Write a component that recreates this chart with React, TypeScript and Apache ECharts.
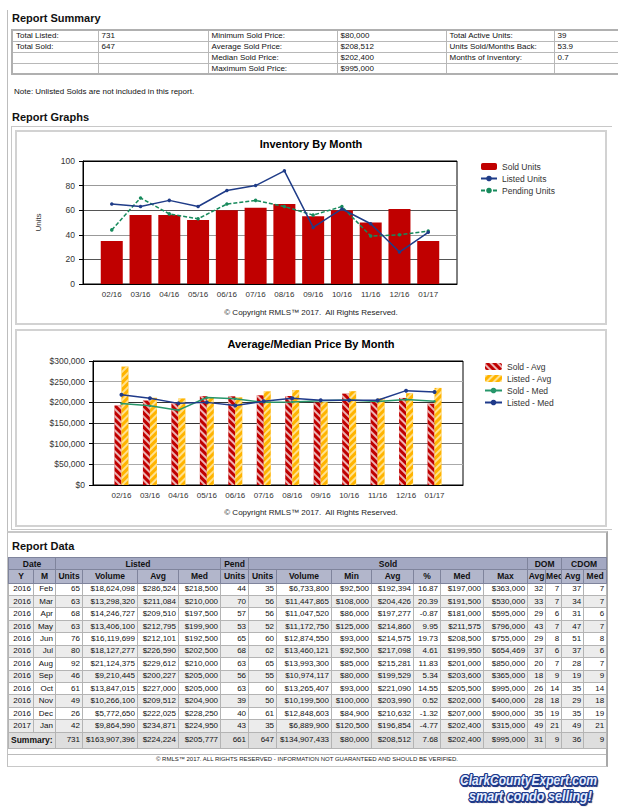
import React, { useEffect, useLayoutEffect, useRef } from "react";
import * as echarts from "echarts";

// ---------- chart data ----------
const months = ["02/16", "03/16", "04/16", "05/16", "06/16", "07/16", "08/16", "09/16", "10/16", "11/16", "12/16", "01/17"];
const soldUnits = [35, 56, 56, 52, 60, 62, 65, 55, 60, 50, 61, 35];
const listedUnits = [65, 63, 68, 63, 76, 80, 92, 46, 61, 49, 26, 42];
const pendingUnits = [44, 70, 57, 53, 65, 68, 63, 56, 63, 39, 40, 43];
const soldAvg = [192394, 204426, 197277, 214860, 214575, 217098, 215281, 199529, 221090, 203990, 210632, 196854];
const listedAvg = [286524, 211084, 209510, 212795, 212101, 226590, 229612, 200227, 227000, 209512, 222025, 234871];
const soldMed = [197000, 191500, 181000, 211575, 208500, 199950, 201000, 203600, 205500, 202000, 207000, 202400];
const listedMed = [218500, 210000, 197500, 199900, 192500, 202500, 210000, 205000, 205000, 204900, 228250, 224950];

// ---------- table data ----------
const years = ["2016", "2016", "2016", "2016", "2016", "2016", "2016", "2016", "2016", "2016", "2016", "2017"];
const monthNames = ["Feb", "Mar", "Apr", "May", "Jun", "Jul", "Aug", "Sep", "Oct", "Nov", "Dec", "Jan"];
const listedVolume = [18624098, 13298320, 14246727, 13406100, 16119699, 18127277, 21124375, 9210445, 13847015, 10266100, 5772650, 9864590];
const soldVolume = [6733800, 11447865, 11047520, 11172750, 12874550, 13460121, 13993300, 10974117, 13265407, 10199500, 12848603, 6889900];
const soldMin = [92500, 108000, 86000, 125000, 93000, 92500, 85000, 80000, 93000, 100000, 84900, 120500];
const soldPct = ["16.87", "20.39", "-0.87", "9.95", "19.73", "4.61", "11.83", "5.34", "14.55", "0.52", "-1.32", "-4.77"];
const soldMax = [363000, 530000, 595000, 796000, 755000, 654469, 850000, 365000, 995000, 400000, 900000, 315000];
const domAvg = [32, 33, 29, 43, 29, 37, 20, 18, 26, 28, 35, 49];
const domMed = [7, 7, 6, 7, 8, 6, 7, 9, 14, 18, 19, 21];
const cdomAvg = [37, 34, 31, 47, 51, 37, 28, 19, 35, 29, 35, 49];
const cdomMed = [7, 7, 6, 7, 8, 6, 7, 9, 14, 18, 19, 21];
const summaryRow = ["731", "$163,907,396", "$224,224", "$205,777", "661", "647", "$134,907,433", "$80,000", "$208,512", "7.68", "$202,400", "$995,000", "31", "9", "36", "9"];

const summaryLabels = [
  ["Total Listed:", "731", "Minimum Sold Price:", "$80,000", "Total Active Units:", "39"],
  ["Total Sold:", "647", "Average Sold Price:", "$208,512", "Units Sold/Months Back:", "53.9"],
  ["", "", "Median Sold Price:", "$202,400", "Months of Inventory:", "0.7"],
  ["", "", "Maximum Sold Price:", "$995,000", "", ""],
];

const FONT = "'Liberation Sans', Arial, sans-serif";
const money = (n: number) => "$" + n.toLocaleString("en-US");
const padCats = ["", ...months, ""];
const pad = (a: number[]) => ["-", ...a, "-"] as any[];

function useChart(build: () => any) {
  const ref = useRef<HTMLDivElement>(null);
  useEffect(() => {
    const chart = echarts.init(ref.current!, undefined, { renderer: "svg" });
    chart.setOption(build());
    return () => chart.dispose();
  }, []);
  return ref;
}

const commonX = {
  type: "category",
  data: padCats,
  boundaryGap: false,
  axisLine: { lineStyle: { color: "#000", width: 1 } },
  axisTick: { show: false },
  axisLabel: { fontSize: 8, color: "#333", margin: 6, interval: 0, fontFamily: FONT },
  splitLine: { show: false },
};

function InventoryChart() {
  const ref = useChart(() => ({
    animation: false,
    textStyle: { fontFamily: FONT },
    title: [
      { text: "Inventory By Month", left: "center", top: 3, textStyle: { fontSize: 11, fontWeight: "bold", color: "#000", fontFamily: FONT } },
      { text: "© Copyright RMLS™ 2017.  All Rights Reserved.", left: "center", top: 173, textStyle: { fontSize: 8, fontWeight: "normal", color: "#222", fontFamily: FONT } },
    ],
    legend: {
      orient: "vertical",
      left: 460,
      top: 27,
      itemWidth: 16,
      itemHeight: 7,
      itemGap: 3,
      textStyle: { fontSize: 8.5, color: "#333", fontFamily: FONT },
      data: ["Sold Units", "Listed Units", "Pending Units"],
    },
    grid: { left: 68, top: 31, width: 374, height: 123, show: true, borderColor: "#000", borderWidth: 1 },
    xAxis: commonX,
    yAxis: {
      type: "value",
      min: 0,
      max: 100,
      interval: 20,
      axisLine: { show: true, lineStyle: { color: "#000" } },
      axisTick: { show: true, length: 4, lineStyle: { color: "#000" } },
      axisLabel: { fontSize: 8.5, color: "#333", margin: 8, fontFamily: FONT },
      splitLine: { show: true, lineStyle: { color: ["#000", "#555", "#999", "#555", "#999", "#000"] } },
      name: "Units",
      nameLocation: "middle",
      nameGap: 41,
      nameTextStyle: { fontSize: 8, color: "#333", fontFamily: FONT },
    },
    series: [
      { name: "Sold Units", type: "bar", data: pad(soldUnits), barWidth: 22, itemStyle: { color: "#c00000" }, z: 1 },
      {
        name: "Listed Units", type: "line", data: pad(listedUnits), color: "#1f3c88",
        lineStyle: { color: "#1f3c88", width: 1.5 }, symbol: "circle", symbolSize: 3.5, itemStyle: { color: "#1f3c88" }, z: 3,
      },
      {
        name: "Pending Units", type: "line", data: pad(pendingUnits), color: "#178a5c",
        lineStyle: { color: "#178a5c", width: 1.5, type: [4, 2] }, symbol: "circle", symbolSize: 3.5, itemStyle: { color: "#178a5c" }, z: 2,
      },
    ],
  }));
  return <div ref={ref} style={{ position: "absolute", left: 15, top: 130, width: 592, height: 195 }} />;
}

function PriceChart() {
  const ref = useChart(() => ({
    animation: false,
    textStyle: { fontFamily: FONT },
    title: [
      { text: "Average/Median Price By Month", left: "center", top: 4, textStyle: { fontSize: 11, fontWeight: "bold", color: "#000", fontFamily: FONT } },
      { text: "© Copyright RMLS™ 2017.  All Rights Reserved.", left: "center", top: 174, textStyle: { fontSize: 8, fontWeight: "normal", color: "#222", fontFamily: FONT } },
    ],
    legend: {
      orient: "vertical",
      left: 464,
      top: 28,
      itemWidth: 17,
      itemHeight: 7,
      itemGap: 3,
      textStyle: { fontSize: 8.5, color: "#333", fontFamily: FONT },
      data: ["Sold - Avg", "Listed - Avg", "Sold - Med", "Listed - Med"],
    },
    grid: { left: 78, top: 32, width: 370, height: 124, show: true, borderColor: "#000", borderWidth: 1 },
    xAxis: commonX,
    yAxis: {
      type: "value",
      min: 0,
      max: 300000,
      interval: 50000,
      axisLine: { show: true, lineStyle: { color: "#000" } },
      axisTick: { show: true, length: 4, lineStyle: { color: "#000" } },
      axisLabel: { fontSize: 8.5, color: "#333", margin: 8, fontFamily: FONT, formatter: (v: number) => money(v) },
      splitLine: { show: true, lineStyle: { color: ["#000", "#aaa", "#777", "#333", "#333", "#aaa", "#000"] } },
    },
    series: [
      {
        name: "Sold - Avg", type: "bar", data: pad(soldAvg), barWidth: 7, barGap: "0%",
        itemStyle: {
          color: "#c00000",
          decal: { color: "rgba(255,255,255,0.7)", dashArrayX: [1, 0], dashArrayY: [1.5, 2.5], rotation: Math.PI / 4, symbolSize: 1 },
        },
        z: 1,
      },
      {
        name: "Listed - Avg", type: "bar", data: pad(listedAvg), barWidth: 7, barGap: "0%",
        itemStyle: {
          color: "#ffb400",
          decal: { color: "rgba(255,240,190,0.75)", dashArrayX: [1, 0], dashArrayY: [1.5, 2.5], rotation: -Math.PI / 4, symbolSize: 1 },
        },
        z: 1,
      },
      {
        name: "Sold - Med", type: "line", data: pad(soldMed), color: "#27966a",
        lineStyle: { color: "#27966a", width: 1.5 }, symbol: "circle", symbolSize: 2.5, itemStyle: { color: "#27966a" }, z: 2,
      },
      {
        name: "Listed - Med", type: "line", data: pad(listedMed), color: "#1f3a8a",
        lineStyle: { color: "#1f3a8a", width: 1.5 }, symbol: "circle", symbolSize: 4, itemStyle: { color: "#1f3a8a" }, z: 3,
      },
    ],
  }));
  return <div ref={ref} style={{ position: "absolute", left: 15, top: 329, width: 592, height: 198 }} />;
}

const abs = (l: number, t: number, extra: React.CSSProperties = {}): React.CSSProperties => ({ position: "absolute", left: l, top: t, ...extra });
const heading: React.CSSProperties = { fontSize: 11, fontWeight: "bold", color: "#111", lineHeight: "12px", whiteSpace: "nowrap" };

function SummaryTable() {
  const widths = [86, 110, 129, 109, 108, 90];
  const cell: React.CSSProperties = { border: "1px solid #b8b8b8", height: 9, padding: "0 3px", fontSize: 8, lineHeight: "9px", color: "#111", whiteSpace: "nowrap", overflow: "hidden" };
  return (
    <table style={{ ...abs(11, 29), borderCollapse: "collapse", tableLayout: "fixed", width: 632, border: "2px solid #b0b0b0" }}>
      <colgroup>{widths.map((w, i) => <col key={i} style={{ width: w }} />)}</colgroup>
      <tbody>
        {summaryLabels.map((r, i) => (
          <tr key={i} style={{ height: 11 }}>{r.map((c, j) => <td key={j} style={cell}>{c}</td>)}</tr>
        ))}
      </tbody>
    </table>
  );
}

function DataTable() {
  const widths = [25, 22, 27, 55, 41, 42, 28, 28, 55, 40, 42, 27, 43, 44, 18, 16, 22, 23];
  const hd: React.CSSProperties = { border: "1px solid #7f849c", fontSize: 8.5, fontWeight: "bold", color: "#111", textAlign: "center", padding: 0, lineHeight: "10px", whiteSpace: "nowrap", overflow: "hidden" };
  const td: React.CSSProperties = { border: "1px solid #b4b4b4", fontSize: 8, color: "#111", textAlign: "right", padding: "0 2px", lineHeight: "10px", whiteSpace: "nowrap", overflow: "hidden" };
  const rows = months.map((_, i) => [
    years[i], monthNames[i], String(listedUnits[i]), money(listedVolume[i]), money(listedAvg[i]), money(listedMed[i]),
    String(pendingUnits[i]), String(soldUnits[i]), money(soldVolume[i]), money(soldMin[i]), money(soldAvg[i]), soldPct[i],
    money(soldMed[i]), money(soldMax[i]), String(domAvg[i]), String(domMed[i]), String(cdomAvg[i]), String(cdomMed[i]),
  ]);
  const sub = ["Y", "M", "Units", "Volume", "Avg", "Med", "Units", "Units", "Volume", "Min", "Avg", "%", "Med", "Max", "Avg", "Med", "Avg", "Med"];
  return (
    <table style={{ ...abs(8, 557), borderCollapse: "collapse", tableLayout: "fixed", width: 598, border: "1px solid #999" }}>
      <colgroup>{widths.map((w, i) => <col key={i} style={{ width: w }} />)}</colgroup>
      <tbody>
        <tr style={{ background: "#a3a8c2", height: 12 }}>
          <td style={hd} colSpan={2}>Date</td>
          <td style={hd} colSpan={4}>Listed</td>
          <td style={hd}>Pend</td>
          <td style={hd} colSpan={7}>Sold</td>
          <td style={hd} colSpan={2}>DOM</td>
          <td style={hd} colSpan={2}>CDOM</td>
        </tr>
        <tr style={{ background: "#b2b6cb", height: 13.5 }}>
          {sub.map((s, i) => <td key={i} style={hd}>{s}</td>)}
        </tr>
        {rows.map((r, i) => (
          <tr key={i} style={{ background: i % 2 === 0 ? "#ffffff" : "#ececec", height: 12.45 }}>
            {r.map((c, j) => <td key={j} style={td}>{c}</td>)}
          </tr>
        ))}
        <tr style={{ background: "#dedede", height: 16 }}>
          <td style={{ ...td, textAlign: "left", fontWeight: "bold", fontSize: 8.5 }} colSpan={2}>Summary:</td>
          {summaryRow.map((c, j) => <td key={j} style={td}>{c}</td>)}
        </tr>
      </tbody>
    </table>
  );
}

function FitText({ text, left, top, width, style }: { text: string; left: number; top: number; width: number; style: React.CSSProperties }) {
  const ref = useRef<HTMLSpanElement>(null);
  useLayoutEffect(() => {
    const el = ref.current!;
    const w = el.getBoundingClientRect().width;
    if (w > 0) el.style.transform = `scaleX(${width / w})`;
  }, []);
  return (
    <span ref={ref} style={{ position: "absolute", left, top, display: "inline-block", transformOrigin: "0 0", ...style }}>{text}</span>
  );
}

export default function App() {
  const logoShadow = [
    "-1.5px 0 #1d3a8c", "1.5px 0 #1d3a8c", "0 -1.5px #1d3a8c", "0 1.5px #1d3a8c",
    "-1px -1px #1d3a8c", "1px 1px #1d3a8c", "-1px 1px #1d3a8c", "1px -1px #1d3a8c",
    "2px 2px 1px #0d2260",
  ].join(",");
  const logoText: React.CSSProperties = {
    fontFamily: "'Liberation Sans', sans-serif", fontWeight: "bold", fontStyle: "italic",
    color: "#e6eeff", textShadow: logoShadow, whiteSpace: "nowrap",
  };
  return (
    <div style={{ position: "absolute", left: 0, top: 0, width: 618, height: 811, overflow: "hidden", background: "#fff", fontFamily: FONT }}>
      {/* left rule */}
      <div style={abs(7, 10, { width: 1, height: 525, background: "#bdbdbd" })} />
      <div style={abs(12, 12, heading)}>Report Summary</div>
      <SummaryTable />
      <div style={abs(14, 87, { fontSize: 8, color: "#111", lineHeight: "10px", whiteSpace: "nowrap" })}>Note: Unlisted Solds are not included in this report.</div>
      <div style={abs(12, 111, heading)}>Report Graphs</div>
      {/* graphs section box */}
      <div style={abs(11, 126, { width: 601, height: 404, border: "1px solid #c8c8c8", borderRight: "none", boxSizing: "border-box" })} />
      <div style={abs(15, 130, { width: 592, height: 195, border: "2px solid #d2d2d2", boxSizing: "border-box" })} />
      <div style={abs(15, 329, { width: 592, height: 198, border: "2px solid #d2d2d2", boxSizing: "border-box" })} />
      <InventoryChart />
      <PriceChart />
      {/* report data box */}
      <div style={abs(7, 531, { width: 601, height: 236, borderTop: "2px solid #c8c8c8", borderLeft: "1px solid #c0c0c0", borderRight: "2px solid #a8a8a8", borderBottom: "1px solid #c8c8c8", boxSizing: "border-box" })} />
      <div style={abs(12, 540, heading)}>Report Data</div>
      <DataTable />
      <div style={abs(8, 754, { width: 598, height: 1, background: "#bbb" })} />
      <div style={abs(8, 756, { width: 598, textAlign: "center", fontSize: 6, color: "#222", lineHeight: "7px", whiteSpace: "nowrap" })}>
        © RMLS™ 2017. ALL RIGHTS RESERVED - INFORMATION NOT GUARANTEED AND SHOULD BE VERIFIED.
      </div>
      <FitText text="ClarkCountyExpert.com" left={460} top={772} width={137} style={{ ...logoText, fontSize: 15, lineHeight: "16px" }} />
      <FitText text="smart condo selling!" left={469} top={788} width={123} style={{ ...logoText, fontSize: 15, lineHeight: "16px" }} />
    </div>
  );
}
